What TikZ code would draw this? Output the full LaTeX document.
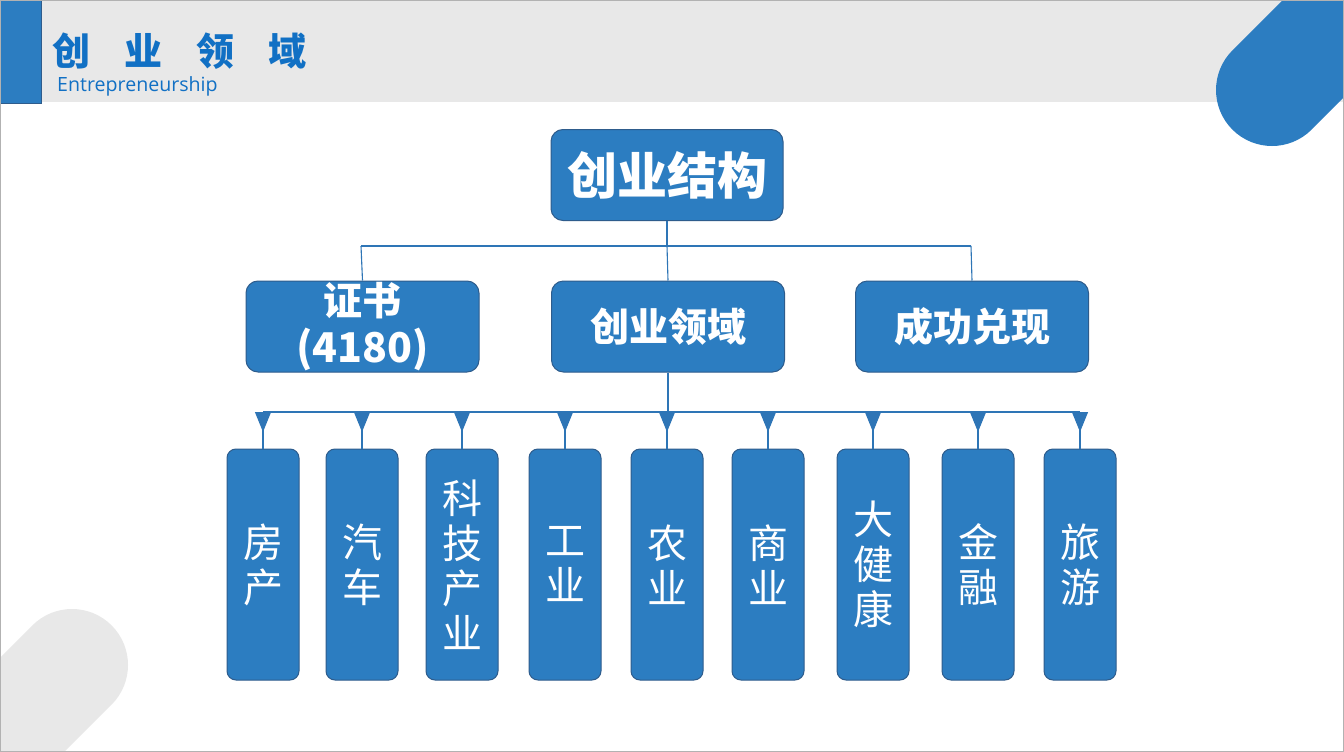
\documentclass[tikz,border=0pt]{standalone}
\usepackage{fontspec}
\newfontfamily\cjk{Noto Sans CJK SC}
\newfontfamily\latin{Open Sans}
\usetikzlibrary{arrows.meta,decorations.markings}

\definecolor{boxblue}{RGB}{44,125,193}
\definecolor{boxedge}{RGB}{46,92,140}
\definecolor{titleblue}{RGB}{17,112,196}
\definecolor{linkblue}{RGB}{46,117,182}
\definecolor{bandgray}{RGB}{232,232,232}

\begin{document}
\begin{tikzpicture}[
  x=1pt,
  y=-1pt,
  topbox/.style={rectangle, rounded corners=12pt, draw=boxedge, line width=1pt, fill=boxblue, minimum width=232pt, minimum height=91pt, inner sep=0pt, text=white, font=\cjk\bfseries\fontsize{50}{54}\selectfont},
  midbox/.style={topbox, minimum width=233pt, font=\cjk\bfseries\fontsize{39}{47}\selectfont, align=center},
  leafbox/.style={rectangle, rounded corners=9pt, draw=boxedge, line width=1pt, fill=boxblue, minimum width=72pt, minimum height=231pt, inner sep=0pt, text=white, font=\cjk\fontsize{40}{45}\selectfont, align=center},
  link/.style={draw=linkblue, line width=1.1pt},
  droplink/.style={link, postaction={decorate}, decoration={markings, mark=at position 20pt with {\arrow{Triangle[width=16pt,length=20pt]}}}},
]

\useasboundingbox (0,0) rectangle (1344,752);

% page background and corner shapes
\fill[white] (0,0) rectangle (1344,752);
\begin{scope}
  \clip (0,0) rectangle (1344,752);
  \fill[bandgray] (0,0) rectangle (1344,102);
  \draw[draw=bandgray, line width=112pt, line cap=round] (72,665) -- (-60,797);
  \draw[draw=boxblue, line width=112pt, line cap=round] (1272,90) -- (1420,-58);
\end{scope}
\fill[boxblue, draw=boxedge] (0,0) rectangle (41,103);
\draw[black!30, line width=2pt] (0,0) rectangle (1344,752);

% heading
\node[anchor=west, inner sep=0pt, text=titleblue, font=\cjk\bfseries\fontsize{38}{40}\selectfont] (head) at (52,51) {创\hspace{34pt}业\hspace{34pt}领\hspace{34pt}域};
\node[anchor=west, inner sep=0pt, text=titleblue, font=\latin\fontsize{19.6}{22}\selectfont] (subhead) at (57,86) {Entrepreneurship};

% tree
\node[topbox] (root) at (667,175) {创业结构};

\node[midbox] (cert) at (362.5,326.5) {证书\\{\fontsize{41}{47}\selectfont(4180)}};
\node[midbox] (field) at (668,326.5) {创业领域};
\node[midbox] (cash) at (972,326.5) {成功兑现};

\node[leafbox] (leaf1) at (263,564.5) {房\\产};
\node[leafbox] (leaf2) at (362,564.5) {汽\\车};
\node[leafbox] (leaf3) at (462,564.5) {科\\技\\产\\业};
\node[leafbox] (leaf4) at (565,564.5) {工\\业};
\node[leafbox] (leaf5) at (667,564.5) {农\\业};
\node[leafbox] (leaf6) at (768,564.5) {商\\业};
\node[leafbox] (leaf7) at (873,564.5) {大\\健\\康};
\node[leafbox] (leaf8) at (978,564.5) {金\\融};
\node[leafbox] (leaf9) at (1080,564.5) {旅\\游};

\coordinate (fork) at (667,246);
\coordinate (forkl) at (361,246);
\coordinate (forkr) at (971,246);

\draw[link] (root.south) -- (fork);
\draw[link] (forkl) -- (forkr);
\draw[link] (forkl) -- (cert.north);
\draw[link] (fork) -- (field.north);
\draw[link] (forkr) -- (cash.north);

\coordinate (bus) at (668,412);
\coordinate (bus1) at (263,412);
\coordinate (bus2) at (362,412);
\coordinate (bus3) at (462,412);
\coordinate (bus4) at (565,412);
\coordinate (bus5) at (667,412);
\coordinate (bus6) at (768,412);
\coordinate (bus7) at (873,412);
\coordinate (bus8) at (978,412);
\coordinate (bus9) at (1080,412);

\draw[link] (field.south) -- (bus);
\draw[link] (bus1) -- (bus9);
\draw[droplink] (bus1) -- (leaf1.north);
\draw[droplink] (bus2) -- (leaf2.north);
\draw[droplink] (bus3) -- (leaf3.north);
\draw[droplink] (bus4) -- (leaf4.north);
\draw[droplink] (bus5) -- (leaf5.north);
\draw[droplink] (bus6) -- (leaf6.north);
\draw[droplink] (bus7) -- (leaf7.north);
\draw[droplink] (bus8) -- (leaf8.north);
\draw[droplink] (bus9) -- (leaf9.north);

\end{tikzpicture}
\end{document}
